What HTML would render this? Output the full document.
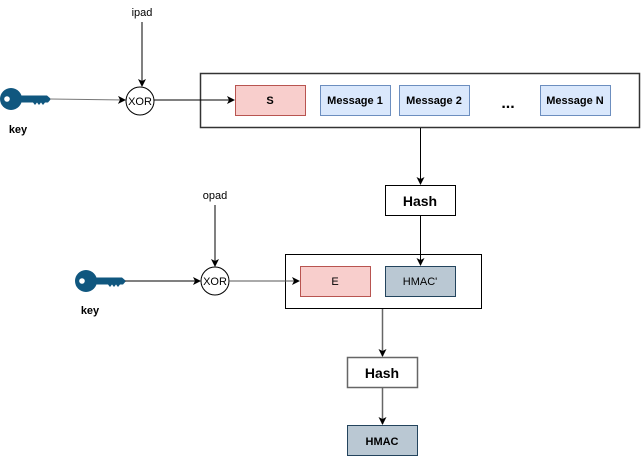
<!DOCTYPE html>
<html><head><style>body{margin:0;background:#fff}svg{display:block}</style></head><body>
<svg width="641" height="456" viewBox="0 0 641 456" xmlns="http://www.w3.org/2000/svg" font-family="Liberation Sans, sans-serif">
<defs>
<marker id="a" markerWidth="8" markerHeight="8" refX="7" refY="4" orient="auto" markerUnits="userSpaceOnUse"><path d="M0,0 L8,4 L0,8 L2,4 z" fill="#000"/></marker>
<g id="key"><circle cx="11" cy="10" r="11" fill="#10577f"/><circle cx="7" cy="10" r="2.8" fill="#fff"/><path d="M18,6.5 H47 L51,10 L48,13.5 H45 L43,16 L41,13.5 L39,16 L37,13.5 L35,16 L33,13.5 H18 z" fill="#10577f"/></g>
</defs>
<text x="142" y="16" font-size="11" text-anchor="middle">ipad</text>
<line x1="142" y1="22" x2="142" y2="86" stroke="#000" marker-end="url(#a)"/>
<use href="#key" x="0" y="89"/>
<text x="18" y="133" font-size="11" font-weight="bold" text-anchor="middle">key</text>
<line x1="50" y1="99" x2="125" y2="100" stroke="#777" marker-end="url(#a)"/>
<circle cx="140" cy="101" r="14" fill="#fff" stroke="#000"/>
<text x="140" y="105" font-size="11" text-anchor="middle">XOR</text>
<rect x="200.5" y="73.5" width="439" height="54" fill="#fff" stroke="#333" stroke-width="1.5"/>
<line x1="154" y1="100" x2="234" y2="100" stroke="#000" marker-end="url(#a)"/>
<rect x="235.5" y="85.5" width="70" height="30" fill="#f8cecc" stroke="#b85450"/>
<text x="270" y="104" font-size="11" font-weight="bold" text-anchor="middle">S</text>
<rect x="320.5" y="85.5" width="70" height="30" fill="#dae8fc" stroke="#6c8ebf"/>
<text x="355" y="104" font-size="11" font-weight="bold" text-anchor="middle">Message 1</text>
<rect x="399.5" y="85.5" width="70" height="30" fill="#dae8fc" stroke="#6c8ebf"/>
<text x="434" y="104" font-size="11" font-weight="bold" text-anchor="middle">Message 2</text>
<text x="508" y="108" font-size="16" font-weight="bold" text-anchor="middle">...</text>
<rect x="540.5" y="85.5" width="70" height="30" fill="#dae8fc" stroke="#6c8ebf"/>
<text x="575" y="104" font-size="11" font-weight="bold" text-anchor="middle">Message N</text>
<line x1="420.5" y1="128" x2="420.5" y2="184" stroke="#000" marker-end="url(#a)"/>
<rect x="385.5" y="185.5" width="70" height="30" fill="#fff" stroke="#000"/>
<text x="420" y="206" font-size="14" font-weight="bold" text-anchor="middle">Hash</text>
<text x="215" y="199" font-size="11" text-anchor="middle">opad</text>
<line x1="215" y1="205" x2="215" y2="266" stroke="#000" marker-end="url(#a)"/>
<use href="#key" x="75" y="271"/>
<text x="90" y="314" font-size="11" font-weight="bold" text-anchor="middle">key</text>
<line x1="125" y1="281" x2="200" y2="281" stroke="#000" marker-end="url(#a)"/>
<circle cx="215" cy="281" r="14" fill="#fff" stroke="#000"/>
<text x="215" y="285" font-size="11" text-anchor="middle">XOR</text>
<rect x="285.5" y="254.5" width="196" height="54" fill="#fff" stroke="#000"/>
<line x1="229" y1="281" x2="299" y2="281" stroke="#555" marker-end="url(#a)"/>
<rect x="300.5" y="266.5" width="70" height="30" fill="#f8cecc" stroke="#b85450"/>
<text x="335" y="285" font-size="11" text-anchor="middle">E</text>
<line x1="420.5" y1="215" x2="420.5" y2="265" stroke="#000" marker-end="url(#a)"/>
<rect x="385.5" y="266.5" width="70" height="30" fill="#bac8d3" stroke="#23445d"/>
<text x="420" y="285" font-size="11" text-anchor="middle">HMAC'</text>
<line x1="382.5" y1="309" x2="382.5" y2="356" stroke="#666" stroke-width="1.5" marker-end="url(#a)"/>
<rect x="347.5" y="357.5" width="70" height="30" fill="#fff" stroke="#666" stroke-width="1.5"/>
<text x="382" y="378" font-size="14" font-weight="bold" text-anchor="middle">Hash</text>
<line x1="382.5" y1="388" x2="382.5" y2="424" stroke="#666" stroke-width="1.5" marker-end="url(#a)"/>
<rect x="347.5" y="425.5" width="70" height="30" fill="#bac8d3" stroke="#23445d"/>
<text x="382" y="445" font-size="11" font-weight="bold" text-anchor="middle">HMAC</text>
</svg>
</body></html>
